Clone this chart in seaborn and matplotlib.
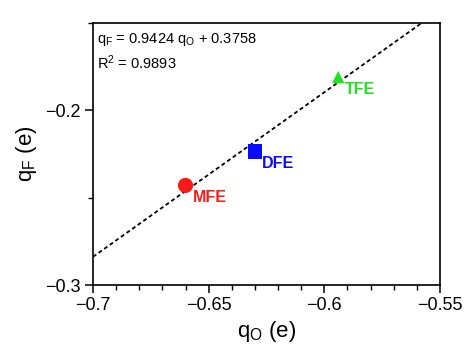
import matplotlib
matplotlib.use("Agg")
import matplotlib.pyplot as plt
import seaborn as sns
import pandas as pd
from matplotlib.ticker import MultipleLocator

# Data
names = ["MFE", "DFE", "TFE"]
q_O = [-0.660, -0.630, -0.594]
q_F = [-0.243, -0.2235, -0.181]
colors = ["#ff1a1a", "#0a0aff", "#22e022"]
markers = ["o", "s", "^"]
sizes = [120, 110, 80]
slope = 0.9424
intercept = 0.3758
r2 = 0.9893

df = pd.DataFrame({"name": names, "q_O": q_O, "q_F": q_F, "size": sizes})

sns.set_style("ticks")
plt.rcParams["font.family"] = ["Liberation Sans", "DejaVu Sans"]
plt.rcParams["mathtext.fontset"] = "custom"
plt.rcParams["mathtext.rm"] = "Liberation Sans"
plt.rcParams["mathtext.it"] = "Liberation Sans"
plt.rcParams["text.color"] = "black"
plt.rcParams["axes.labelcolor"] = "black"

fig = plt.figure(figsize=(4.74, 3.63), dpi=100)
ax = fig.add_axes([93/474, 1-285/363, (440-93)/474, (285-23)/363])

ax.axline((0, intercept), slope=slope, color="black", lw=1.3,
          linestyle=(0, (2.2, 1.6)), zorder=1)

sns.scatterplot(data=df, x="q_O", y="q_F", hue="name", style="name",
                size="size", sizes=(min(sizes), max(sizes)),
                palette=dict(zip(names, colors)),
                markers=dict(zip(names, markers)),
                edgecolor="none", linewidth=0, legend=False, ax=ax, zorder=3)

for n, x, y, c in zip(names, q_O, q_F, colors):
    ax.annotate(n, (x, y), xytext=(5, -9), textcoords="offset points",
                ha="left", va="center", color=c, fontsize=11.5, fontweight="bold")

ax.text(0.012, 0.968, r"q$_\mathrm{F}$ = %.4f q$_\mathrm{O}$ + %.4f" % (slope, intercept),
        transform=ax.transAxes, ha="left", va="top", fontsize=10.5, color="black")
ax.text(0.012, 0.885, r"R$^\mathrm{2}$ = %.4f" % r2,
        transform=ax.transAxes, ha="left", va="top", fontsize=10.5, color="black")

ax.set_xlim(-0.7, -0.55)
ax.set_ylim(-0.3, -0.15)
ax.xaxis.set_major_locator(MultipleLocator(0.05))
ax.xaxis.set_minor_locator(MultipleLocator(0.01))
ax.yaxis.set_major_locator(MultipleLocator(0.1))
ax.yaxis.set_minor_locator(MultipleLocator(0.05))
ax.set_xticks([-0.7, -0.65, -0.6, -0.55])
ax.set_xticklabels(["\u22120.7", "\u22120.65", "\u22120.6", "\u22120.55"])
ax.set_yticks([-0.3, -0.2])
ax.set_yticklabels(["\u22120.3", "\u22120.2"])
ax.tick_params(axis="both", which="major", direction="out", length=6, width=1.1,
               labelsize=13, color="black", labelcolor="black", pad=3)
ax.tick_params(axis="both", which="minor", direction="out", length=3.5, width=1.0,
               color="black")
for sp in ax.spines.values():
    sp.set_visible(True)
    sp.set_linewidth(1.2)
    sp.set_color("black")

ax.set_xlabel(r"q$_\mathrm{O}$ (e)", fontsize=16, labelpad=3, color="black")
ax.set_ylabel(r"q$_\mathrm{F}$ (e)", fontsize=16, labelpad=4, color="black")

fig.savefig("out.png", dpi=100)
